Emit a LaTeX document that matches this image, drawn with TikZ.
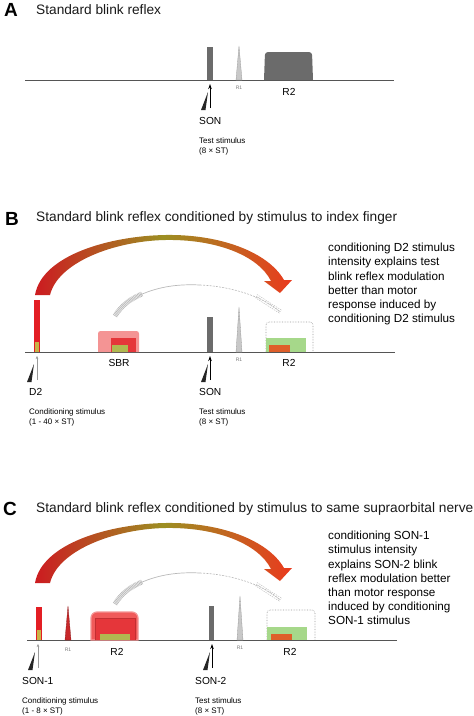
\documentclass[tikz,border=0pt]{standalone}
\usepackage{fontspec}
\setmainfont{Liberation Sans}
\usetikzlibrary{arrows.meta, positioning, calc}
\definecolor{BarGray}{HTML}{6B6B6B}
\definecolor{PeakGray}{HTML}{C8C8C8}
\definecolor{EdgeGray}{HTML}{9A9A9A}
\definecolor{LabelGray}{HTML}{777777}
\definecolor{LineGray}{HTML}{555555}
\definecolor{StimRed}{HTML}{E31E24}
\definecolor{SoftRed}{HTML}{F49494}
\definecolor{MidRed}{HTML}{F05A5A}
\definecolor{DeepRed}{HTML}{E5363A}
\definecolor{PeakRed}{HTML}{C8282A}
\definecolor{LeafGreen}{HTML}{A6D88A}
\definecolor{OliveGreen}{HTML}{B0B850}
\definecolor{BurntOrange}{HTML}{DE5F2A}
\definecolor{Mustard}{HTML}{C9B447}
\definecolor{ArcOlive}{HTML}{9C8F22}
\definecolor{HeadRed}{HTML}{EA3A1E}
% curved arrow from conditioning to test response
\newcommand{\bigarrow}{%
  \shade[left color=StimRed!90!black, right color=HeadRed, middle color=ArcOlive]
    (35,-57) .. controls (42,-97) and (110,-116) .. (165,-117)
    .. controls (220,-118) and (268,-100) .. (284,-72)
    -- (292,-72) -- (280,-59) -- (264,-71) -- (271,-71)
    .. controls (258,-97) and (215,-113) .. (165,-112)
    .. controls (115,-111) and (58,-90) .. (50,-57) -- cycle;}
% faint arc from conditioning response to test response
\newcommand{\ghostarc}{%
  \draw[gray!55, line width=5pt, dash pattern=on 0.7pt off 0.7pt]
    (115,-36) .. controls (121,-46) and (130,-53) .. (142,-58);
  \draw[gray!55, line width=0.7pt]
    (140,-57) .. controls (160,-66) and (180,-68) .. (200,-67);
  \draw[gray!55, line width=0.6pt, dash pattern=on 2pt off 1.2pt]
    (200,-67) .. controls (230,-66) and (265,-55) .. (280,-40);
  \foreach \d in {-1.8,0,1.8}
    \draw[gray!55, line width=0.4pt, dash pattern=on 1.5pt off 1pt]
      ($(256,-56)+(-0.55*\d,0.84*\d)$) -- ($(281,-40)+(-0.55*\d,0.84*\d)$);}

\begin{document}
\begin{tikzpicture}[x=1pt, y=-1pt,
    panel/.style={font=\fontsize{19}{19}\selectfont\bfseries, anchor=west, inner sep=0},
    heading/.style={font=\fontsize{13.7}{16}\selectfont, anchor=west, inner sep=0, text=black!90},
    lbl/.style={font=\fontsize{10.2}{12}\selectfont, inner sep=0},
    rlabel/.style={font=\fontsize{5}{6}\selectfont, text=LabelGray, inner sep=0},
    stimtext/.style={font=\fontsize{8}{10.5}\selectfont, align=left, anchor=north west, inner sep=0},
    note/.style={font=\fontsize{11.7}{14.2}\selectfont, align=left, anchor=north west, inner sep=0},
    axisline/.style={draw=LineGray, line width=0.9pt},
    peak/.style={fill=PeakGray, draw=EdgeGray, line width=0.3pt},
    dashbox/.style={draw=EdgeGray, line width=0.6pt, densely dotted},
    stim/.style={-{Stealth[length=5pt,width=3.5pt]}, line width=1pt},
    thinstim/.style={-{Stealth[length=3pt,width=2.5pt]}, line width=0.3pt, draw=EdgeGray},
  ]
  \useasboundingbox (0,0) rectangle (474,716);

  % Panel headings
  \node[panel] (letA) at (4,10) {A};
  \node[heading] (headA) at (36,10) {Standard blink reflex};
  \node[panel] (letB) at (5,219) {B};
  \node[heading] (headB) at (36,218) {Standard blink reflex conditioned by stimulus to index finger};
  \node[panel] (letC) at (3,509) {C};
  \node[heading] (headC) at (36,509) {Standard blink reflex conditioned by stimulus to same supraorbital nerve};

  % ---------------- Panel A
  \begin{scope}[shift={(0,80)}]
    \draw[axisline] (25,0) -- (394,0);
    \fill[BarGray] (207,-33) rectangle (213,0);
    \filldraw[peak] (236,0) -- (239,-34) -- (242,0) -- cycle;
    \fill[BarGray] (264,0) [rounded corners=3pt] -- (265,-28) -- (312,-28) [sharp corners] -- (313,0) -- cycle;
    \node[rlabel] (r1A) at (239,8) {R1};
    \node[lbl] (r2A) at (289,12) {R2};
    \coordinate (sonA-tail) at (210,28);
    \coordinate (sonA-tip) at (210,4);
    \draw[stim] (sonA-tail) -- (sonA-tip);
    \fill[black!85] (201,30) -- (208,12) -- (205.5,30) -- cycle;
    \node[lbl, anchor=west] (sonA) at (199,41) {SON};
    \node[stimtext] (testA) at (199,57) {Test stimulus\\(8 × ST)};
  \end{scope}

  % ---------------- Panel B
  \begin{scope}[shift={(0,352)}]
    \bigarrow
    \ghostarc
    \draw[axisline] (25,0) -- (395,0);
    % conditioning D2 stimulus
    \fill[StimRed] (34,-52) rectangle (40,0);
    \fill[Mustard] (35,-10) rectangle (39,0);
    % SBR
    \fill[SoftRed] (98,0) [rounded corners=2.5pt] -- (98,-21) -- (139,-21) [sharp corners] -- (139,0) -- cycle;
    \fill[DeepRed] (111,-14) rectangle (136,0);
    \fill[OliveGreen] (112,-7) rectangle (128,0);
    % test response
    \fill[BarGray] (207,-35) rectangle (213,0);
    \filldraw[peak] (236,0) -- (239,-45) -- (242,0) -- cycle;
    \draw[dashbox] (266,0) [rounded corners=3pt] -- (266,-30) -- (313,-30) [sharp corners] -- (313,0);
    \fill[LeafGreen] (266,-14) rectangle (306,0);
    \fill[BurntOrange] (269,-7) rectangle (290,0);
    \node[rlabel] (r1B) at (239,8) {R1};
    \node[lbl] (r2B) at (289,11) {R2};
    \node[lbl] (sbrB) at (119,11) {SBR};
    % stimuli
    \coordinate (d2B-tail) at (37,28);
    \coordinate (d2B-tip) at (37,4);
    \draw[thinstim] (d2B-tail) -- (d2B-tip);
    \fill[black!85] (27,30) -- (34,12) -- (31.5,30) -- cycle;
    \coordinate (sonB-tail) at (210,28);
    \coordinate (sonB-tip) at (210,4);
    \draw[stim] (sonB-tail) -- (sonB-tip);
    \fill[black!85] (201,30) -- (208,12) -- (205.5,30) -- cycle;
    \node[lbl, anchor=west] (d2) at (29,40) {D2};
    \node[lbl, anchor=west] (sonB) at (199,40) {SON};
    \node[stimtext] (condB) at (29,56) {Conditioning stimulus\\(1 - 40 × ST)};
    \node[stimtext] (testB) at (199,56) {Test stimulus\\(8 × ST)};
    \node[note] (noteB) at (328,-109) {conditioning D2 stimulus\\intensity explains test\\blink reflex modulation\\better than motor\\response induced by\\conditioning D2 stimulus};
  \end{scope}

  % ---------------- Panel C
  \begin{scope}[shift={(0,640)}]
    \bigarrow
    \ghostarc
    \draw[axisline] (27,0) -- (397,0);
    % conditioning SON-1 response
    \fill[StimRed] (36,-33) rectangle (42,0);
    \fill[Mustard] (37,-10) rectangle (41,0);
    \filldraw[fill=PeakRed, draw=PeakRed!70!black, line width=0.3pt] (65,0) -- (68,-34) -- (71,0) -- cycle;
    \filldraw[fill=MidRed, draw=SoftRed, line width=1.2pt] (91,0) [rounded corners=6pt] -- (91,-28) -- (138,-28) [sharp corners] -- (138,0) -- cycle;
    \filldraw[fill=DeepRed, draw=DeepRed!85!black, line width=0.3pt] (95,0) -- (95,-22) -- (135,-22) -- (135,0);
    \fill[OliveGreen] (100,-6) rectangle (130,0);
    % test SON-2 response
    \fill[BarGray] (209,-34) rectangle (214,0);
    \filldraw[peak] (237,0) -- (240,-44) -- (243,0) -- cycle;
    \draw[dashbox] (267,0) [rounded corners=3pt] -- (267,-30) -- (315,-30) [sharp corners] -- (315,0);
    \fill[LeafGreen] (267,-13) rectangle (307,0);
    \fill[BurntOrange] (271,-6) rectangle (292,0);
    \node[rlabel] (r1C1) at (68,10) {R1};
    \node[lbl] (r2C1) at (117,12) {R2};
    \node[rlabel] (r1C2) at (240,8) {R1};
    \node[lbl] (r2C2) at (290,12) {R2};
    % stimuli
    \coordinate (son1C-tail) at (38,28);
    \coordinate (son1C-tip) at (38,4);
    \draw[thinstim] (son1C-tail) -- (son1C-tip);
    \fill[black!85] (28,30) -- (35,12) -- (32.5,30) -- cycle;
    \coordinate (son2C-tail) at (212,28);
    \coordinate (son2C-tip) at (212,4);
    \draw[stim] (son2C-tail) -- (son2C-tip);
    \fill[black!85] (203,30) -- (210,12) -- (207.5,30) -- cycle;
    \node[lbl, anchor=west] (son1) at (22,41) {SON-1};
    \node[lbl, anchor=west] (son2) at (195,41) {SON-2};
    \node[stimtext] (condC) at (22,57) {Conditioning stimulus\\(1 - 8 × ST)};
    \node[stimtext] (testC) at (195,57) {Test stimulus\\(8 × ST)};
    \node[note] (noteC) at (328,-109) {conditioning SON-1\\stimulus intensity\\explains SON-2 blink\\reflex modulation better\\than motor response\\induced by conditioning\\SON-1 stimulus};
  \end{scope}
\end{tikzpicture}
\end{document}
